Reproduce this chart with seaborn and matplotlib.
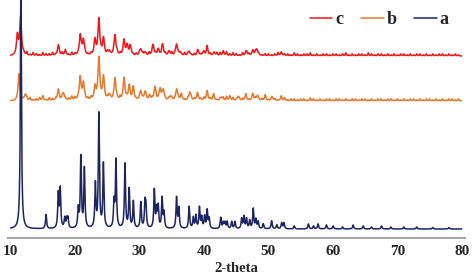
import numpy as np
import pandas as pd
import matplotlib
matplotlib.use("Agg")
import matplotlib.pyplot as plt
import seaborn as sns

# peak lists: 2-theta position, height (arb. units)
a_pos = [11.6, 15.5, 17.4, 17.7, 18.4, 18.7, 18.9, 20.5, 20.9, 21.45, 23.15, 23.7,
         24.4, 26.05, 26.35, 27.75, 28.4, 29.05, 30.2, 30.85, 31.0, 32.3, 32.65,
         32.9, 33.5, 33.8, 35.75, 36.1, 37.7, 38.35, 38.75, 39.3, 39.65, 40.1, 40.5,
         40.8, 42.6, 43.0, 43.25, 43.6, 44.3, 44.8, 45.85, 46.2, 46.6, 47.1, 47.65,
         48.05, 48.4, 49.2, 50.5, 51.3, 52.05, 52.4, 54.0, 56.2, 57.0, 57.7, 59.0,
         60.05, 61.5, 63.15, 64.7, 66.0, 67.55, 69.0, 71.0, 73.0, 75.5, 78.0]
a_int = [240, 14, 34, 39, 10, 9, 10, 19, 71, 60, 44, 114,
         64, 25, 68, 65, 39, 27, 26, 24, 20, 38, 18,
         21, 30, 15, 31, 20, 22, 11, 13, 21, 11, 12, 18,
         10, 11, 6, 6, 7, 7, 7, 10, 12, 10, 8, 20,
         9, 7, 5, 8, 4, 6, 6, 3, 5, 3, 5, 4,
         3, 2, 4, 3, 2, 3, 2, 2, 2, 1.5, 1.5]

b_pos = [11.3, 12.3, 15.0, 17.4, 18.2, 19.5, 20.8, 21.3, 23.1, 23.7, 24.4, 25.3,
         26.2, 27.6, 28.4, 29.05, 30.2, 30.85, 31.6, 32.4, 33.2, 33.7, 34.8, 35.75,
         36.5, 37.8, 39.0, 40.5, 41.5, 42.7, 44.0, 45.3, 46.5, 47.6, 48.3, 49.5,
         50.6, 52.0]
b_int = [27, 6, 3, 11, 7, 3, 23, 17, 13, 42, 22, 5,
         22, 22, 14, 11, 9, 8, 4, 13, 11, 10, 4, 11,
         5, 8, 7, 8, 4, 3, 3, 4, 4, 6, 5, 3,
         3, 3]

c_pos = [11.05, 11.55, 17.4, 18.5, 20.8, 21.3, 23.1, 23.7, 24.4, 25.3, 26.2, 27.6,
         28.1, 28.6, 30.2, 30.85, 32.1, 32.9, 33.6, 34.6, 35.75, 36.3, 37.7, 39.1,
         39.9, 40.5, 41.6, 43.0, 46.6, 47.6, 48.2, 52.0]
c_int = [20, 38, 10, 4, 20, 15, 14, 36, 16, 4, 20, 15,
         9, 8, 6, 3, 10, 6, 10, 4, 11, 3, 4, 4,
         3, 7, 3, 3, 4, 5, 6, 3]

# background ripple heights read every 0.5 deg from 12.0 to 79.5
c_ripple = [2, 3, 1, 3, 2, 1, 3, 2, 2, 3, 1, 2, 3, 2, 1, 3,
            2, 1, 3, 2, 1, 2, 3, 1, 2, 2, 3, 1, 2, 3, 2, 1, 2, 3, 1, 2,
            3, 2, 1, 3, 2, 2, 1, 3, 2, 1, 3, 2, 2, 1, 3, 2, 1, 2, 3, 1,
            2, 3, 2, 1, 3, 3, 2, 4, 2, 3, 2, 1, 3, 2, 2, 1, 3, 2, 1, 2,
            2, 1, 2, 3, 1, 2, 2, 1, 3, 2, 1, 2, 2, 3, 1, 2, 1, 2, 2, 1,
            2, 2, 1, 2, 3, 1, 2, 1, 2, 2, 1, 3, 2, 1, 2, 2, 1, 2, 1, 2,
            1, 2, 2, 1, 2, 1, 2, 2, 1, 2, 1, 2, 1, 2, 2, 1, 2, 1, 2, 1]
b_ripple = [1, 2, 3, 1, 2, 3, 2, 1, 3, 2, 2, 1, 3, 2, 2, 1,
            3, 2, 1, 2, 2, 3, 1, 2, 1, 3, 2, 2, 1, 2, 3, 1, 2, 2, 3, 1,
            2, 1, 3, 2, 2, 1, 2, 3, 1, 2, 2, 1, 3, 2, 1, 2, 3, 2, 1, 2,
            3, 2, 2, 3, 1, 2, 3, 4, 2, 3, 1, 2, 2, 3, 1, 2, 2, 1, 2, 3,
            1, 2, 2, 1, 2, 3, 1, 2, 2, 1, 2, 2, 1, 3, 2, 1, 2, 1, 2, 2,
            1, 2, 2, 1, 2, 1, 2, 2, 1, 2, 2, 1, 2, 1, 2, 2, 1, 2, 2, 1,
            2, 1, 2, 1, 2, 2, 1, 2, 1, 2, 2, 1, 2, 1, 2, 1, 2, 2, 1, 2]
ripple_pos = list(np.arange(12.0, 80.0, 0.5))

offsets = {"a": 9, "b": 137, "c": 182}
widths = {"a": 0.1, "b": 0.16, "c": 0.16}
colors = {"c": "#f01818", "b": "#e8782c", "a": "#1c2462"}

two_theta = np.arange(10.0, 80.0, 0.02)


def pattern(pos, inten, w):
    y = np.zeros_like(two_theta)
    for p, h in zip(pos, inten):
        y += h * w**2 / ((two_theta - p)**2 + w**2)
    return y


rows = []
for name, pos, inten, rip in [("c", c_pos, c_int, c_ripple),
                              ("b", b_pos, b_int, b_ripple),
                              ("a", a_pos, a_int, None)]:
    y = pattern(pos, inten, widths[name]) + offsets[name]
    if rip is not None:
        y += pattern(ripple_pos, rip, 0.09)
    rows.append(pd.DataFrame({"2-theta": two_theta, "I": y, "sample": name}))
df = pd.concat(rows, ignore_index=True)

sns.set_style("white")
plt.rcParams["font.family"] = ["Liberation Serif", "DejaVu Serif"]

fig = plt.figure(figsize=(4.74, 2.77), dpi=100)
ax = fig.add_axes([8 / 474, 1 - 238 / 277, 457 / 474, 238 / 277])
sns.lineplot(data=df, x="2-theta", y="I", hue="sample", palette=colors,
             hue_order=["c", "b", "a"], estimator=None, linewidth=1.1, ax=ax)

ax.set_xlim(9.6, 80.5)
ax.set_ylim(0, 238)
ax.set_xticks([10, 20, 30, 40, 50, 60, 70, 80])
ax.set_yticks([])
ax.set_ylabel("")
ax.set_xlabel("2-theta", fontsize=10.5, fontweight="bold", labelpad=3)
ax.tick_params(axis="x", length=0, pad=5, labelsize=11)
for lbl in ax.get_xticklabels():
    lbl.set_fontweight("bold")
for s in ["top", "right", "left"]:
    ax.spines[s].set_visible(False)
ax.spines["bottom"].set_color("#a6a6a6")
ax.spines["bottom"].set_linewidth(1.5)

ax.legend(loc="upper right", bbox_to_anchor=(1.0, 1.02), ncol=3, frameon=False,
          handlelength=1.25, handletextpad=0.15, columnspacing=1.0,
          prop={"weight": "bold", "size": 13})

fig.savefig("out.png", dpi=100)
